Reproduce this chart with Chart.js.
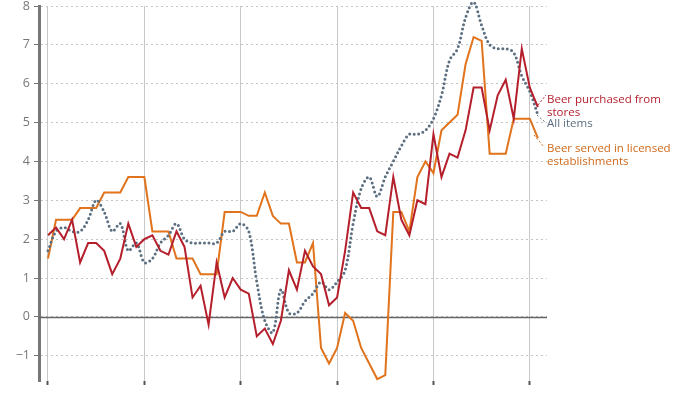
<!DOCTYPE html>
<html>
<head>
<meta charset="utf-8">
<script src="https://cdn.jsdelivr.net/npm/chart.js@4"></script>
<style>
  html, body { margin: 0; padding: 0; background: #fff; }
  #wrap { width: 700px; height: 393px; }
</style>
</head>
<body>
<div id="wrap"><canvas id="myChart" width="700" height="393"></canvas></div>
<script>
// monthly index, 62 months; gridlines every 12 months
const yearTicks = [0, 12, 24, 36, 48, 60];
const yTicks = [-1, 0, 1, 2, 3, 4, 5, 6, 7, 8];

const beerStores = [2.1, 2.3, 2.0, 2.5, 1.4, 1.9, 1.9, 1.7, 1.1, 1.5, 2.4, 1.8,
  2.0, 2.1, 1.7, 1.6, 2.2, 1.8, 0.5, 0.8, -0.2, 1.4, 0.5, 1.0,
  0.7, 0.6, -0.5, -0.3, -0.7, -0.1, 1.2, 0.7, 1.7, 1.3, 1.1, 0.3,
  0.5, 1.7, 3.2, 2.8, 2.8, 2.2, 2.1, 3.6, 2.5, 2.1, 3.0, 2.9,
  4.7, 3.6, 4.2, 4.1, 4.8, 5.9, 5.9, 4.8, 5.7, 6.1, 5.1, 6.9,
  5.9, 5.4];

const allItems = [1.7, 2.2, 2.3, 2.2, 2.2, 2.5, 3.0, 2.7, 2.2, 2.4, 1.7, 1.9,
  1.4, 1.5, 1.9, 2.1, 2.4, 2.0, 1.9, 1.9, 1.9, 1.9, 2.2, 2.2,
  2.4, 2.2, 0.9, -0.1, -0.4, 0.7, 0.1, 0.1, 0.4, 0.6, 0.9, 0.7,
  0.9, 1.2, 2.4, 3.3, 3.6, 3.1, 3.6, 4.0, 4.4, 4.7, 4.7, 4.8,
  5.1, 5.7, 6.6, 6.9, 7.7, 8.1, 7.5, 7.0, 6.9, 6.9, 6.8, 6.2,
  5.8, 5.2];

const beerLicensed = [1.5, 2.5, 2.5, 2.5, 2.8, 2.8, 2.8, 3.2, 3.2, 3.2, 3.6, 3.6,
  3.6, 2.2, 2.2, 2.2, 1.5, 1.5, 1.5, 1.1, 1.1, 1.1, 2.7, 2.7,
  2.7, 2.6, 2.6, 3.2, 2.6, 2.4, 2.4, 1.4, 1.4, 1.9, -0.8, -1.2,
  -0.8, 0.1, -0.1, -0.8, -1.2, -1.6, -1.5, 2.7, 2.7, 2.2, 3.6, 4.0,
  3.7, 4.8, 5.0, 5.2, 6.5, 7.2, 7.1, 4.2, 4.2, 4.2, 5.1, 5.1,
  5.1, 4.6];

const RED = '#b51f2c';
const ORANGE = '#e0731c';
const GREY = '#5b6f80';

const toPoints = arr => arr.map((v, i) => ({x: i, y: v}));

// zero line + end labels with short dotted leaders
const annotations = {
  id: 'annotations',
  beforeDatasetsDraw(chart) {
    const {ctx, chartArea, scales: {y}} = chart;
    const y0 = Math.round(y.getPixelForValue(0)) + 0.5;
    ctx.save();
    ctx.strokeStyle = '#666';
    ctx.lineWidth = 1.5;
    ctx.beginPath();
    ctx.moveTo(chartArea.left, y0);
    ctx.lineTo(chartArea.right, y0);
    ctx.stroke();
    ctx.restore();
  },
  afterDraw(chart) {
    const {ctx} = chart;
    const labels = [
      {color: RED, from: [538, 105], to: [546, 95], lines: ['Beer purchased from', 'stores'], y: 100},
      {color: GREY, from: [537, 115], to: [545, 122], lines: ['All items'], y: 124},
      {color: '#d0691a', from: [534, 135], to: [544, 147], lines: ['Beer served in licensed', 'establishments'], y: 149}
    ];
    ctx.save();
    ctx.font = '11.5px "Open Sans"';
    ctx.textBaseline = 'middle';
    labels.forEach(l => {
      ctx.strokeStyle = l.color;
      ctx.lineWidth = 1;
      ctx.setLineDash([2, 2]);
      ctx.beginPath();
      ctx.moveTo(l.from[0], l.from[1]);
      ctx.lineTo(l.to[0], l.to[1]);
      ctx.stroke();
      ctx.fillStyle = l.color;
      l.lines.forEach((t, k) => ctx.fillText(t, 547, l.y + k * 12.5));
    });
    ctx.restore();
  }
};

const config = {
  type: 'line',
  data: {
    datasets: [
      {
        label: 'Beer purchased from stores',
        data: toPoints(beerStores),
        borderColor: RED,
        borderWidth: 2,
        pointRadius: 0,
        tension: 0,
        order: 1
      },
      {
        label: 'All items',
        data: toPoints(allItems),
        borderColor: GREY,
        borderWidth: 3,
        borderDash: [0, 4.5],
        borderCapStyle: 'round',
        pointRadius: 0,
        tension: 0.35,
        clip: 6,
        order: 2
      },
      {
        label: 'Beer served in licensed establishments',
        data: toPoints(beerLicensed),
        borderColor: ORANGE,
        borderWidth: 2,
        pointRadius: 0,
        tension: 0,
        order: 3
      }
    ]
  },
  options: {
    responsive: false,
    animation: false,
    layout: {padding: {top: 6, right: 153, left: 0, bottom: 0}},
    plugins: {
      legend: {display: false},
      tooltip: {enabled: false}
    },
    scales: {
      x: {
        type: 'linear',
        min: -1.12,
        max: 62.14,
        afterBuildTicks: s => { s.ticks = yearTicks.map(v => ({value: v})); },
        afterFit: s => { s.height = 12; s.paddingLeft = 0; s.paddingRight = 0; },
        ticks: {display: false},
        grid: {color: '#c8c8c8', lineWidth: 1, tickLength: 4, tickColor: '#555', tickWidth: 2},
        border: {display: false}
      },
      y: {
        min: -1.65,
        max: 8,
        afterBuildTicks: s => { s.ticks = yTicks.map(v => ({value: v})); },
        afterFit: s => { s.width = 39; s.paddingTop = 0; s.paddingBottom = 0; },
        ticks: {
          color: '#777',
          font: {family: 'Open Sans', size: 12.5},
          padding: 4,
          callback: v => (v < 0 ? '\u2212' + Math.abs(v) : String(v))
        },
        grid: {color: '#c4c4c4', lineWidth: 1, tickLength: 5, tickColor: '#777', tickBorderDash: []},
        border: {display: true, color: '#777', width: 3, dash: [2, 3]}
      }
    }
  },
  plugins: [annotations]
};

const myChart = new Chart(document.getElementById('myChart'), config);
</script>
</body>
</html>
